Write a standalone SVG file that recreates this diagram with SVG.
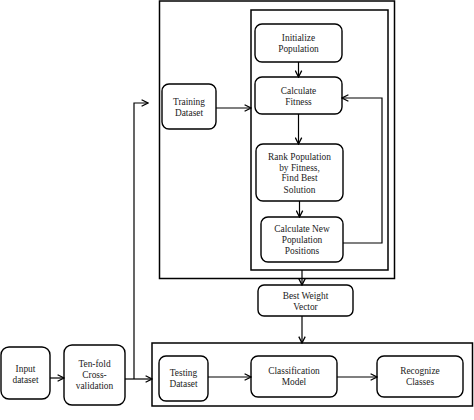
<svg xmlns="http://www.w3.org/2000/svg" width="474" height="420" viewBox="0 0 474 420">
<defs>
<marker id="ah" viewBox="0 0 10 10" refX="9" refY="5" markerWidth="8" markerHeight="8" markerUnits="userSpaceOnUse" orient="auto">
<path d="M1,1 L9,5 L1,9" fill="none" stroke="#000" stroke-width="1.6"/>
</marker>
<style>
.n{fill:#fff;stroke:#000;stroke-width:1.4}
.b{fill:none;stroke:#000;stroke-width:1.5}
.c{fill:none;stroke:#000;stroke-width:1.2;marker-end:url(#ah)}
text{font-family:"Liberation Serif","Times New Roman",serif;font-size:9.4px;fill:#222;text-anchor:middle}
</style>
</defs>
<rect width="474" height="420" fill="#fff"/>
<g id="outerTop"><rect class="b" x="159.5" y="1" width="235" height="277.5"/></g>
<g id="innerTop"><rect class="b" x="251" y="10" width="137" height="260"/></g>
<g id="bottomBox"><rect class="b" x="152" y="343" width="320.5" height="63"/></g>
<g id="init"><rect class="n" x="255" y="24" width="87" height="38" rx="7"/><text x="298.5" y="41">Initialize</text><text x="298.5" y="52">Population</text></g>
<g id="calcFit"><rect class="n" x="255" y="77" width="87" height="37" rx="7"/><text x="298.5" y="93.5">Calculate</text><text x="298.5" y="104.5">Fitness</text></g>
<g id="training"><rect class="n" x="162" y="84" width="54" height="45" rx="7"/><text x="189" y="105">Training</text><text x="189" y="116">Dataset</text></g>
<g id="rank"><rect class="n" x="256" y="144" width="87" height="57" rx="7"/><text x="299.5" y="159.5">Rank Population</text><text x="299.5" y="170.5">by Fitness,</text><text x="299.5" y="181">Find Best</text><text x="299.5" y="193">Solution</text></g>
<g id="calcNew"><rect class="n" x="261" y="217" width="82" height="45" rx="7"/><text x="302" y="232">Calculate New</text><text x="302" y="243">Population</text><text x="302" y="253.5">Positions</text></g>
<g id="bestWeight"><rect class="n" x="258" y="285" width="95" height="31" rx="6"/><text x="305.5" y="298.5">Best Weight</text><text x="305.5" y="309.5">Vector</text></g>
<g id="testing"><rect class="n" x="159" y="356" width="49" height="45" rx="7"/><text x="183.5" y="375.5">Testing</text><text x="183.5" y="386.5">Dataset</text></g>
<g id="classif"><rect class="n" x="251" y="356" width="86" height="41" rx="7"/><text x="294" y="373.5">Classification</text><text x="294" y="384.5">Model</text></g>
<g id="recognize"><rect class="n" x="377" y="356" width="86" height="41" rx="7"/><text x="420" y="373.5">Recognize</text><text x="420" y="384.5">Classes</text></g>
<g id="input"><rect class="n" x="1" y="347" width="49" height="52" rx="8"/><text x="25.5" y="372">Input</text><text x="25.5" y="383">dataset</text></g>
<g id="tenfold"><rect class="n" x="64" y="345" width="61" height="60" rx="8"/><text x="94.5" y="367">Ten-fold</text><text x="94.5" y="378">Cross-</text><text x="94.5" y="389">validation</text></g>
<g id="connectors">
<line class="c" x1="298.5" y1="62" x2="298.5" y2="77"/>
<line class="c" x1="298.5" y1="114" x2="298.5" y2="144"/>
<line class="c" x1="299.5" y1="201" x2="299.5" y2="217"/>
<polyline class="c" points="343,243 382,243 382,98 342,98"/>
<line class="c" x1="216" y1="108" x2="251" y2="108"/>
<line class="c" x1="302" y1="270" x2="302" y2="285"/>
<line class="c" x1="302" y1="316" x2="302" y2="343"/>
<line class="c" x1="50" y1="378" x2="64" y2="378"/>
<line class="c" x1="125" y1="379" x2="152" y2="379"/>
<polyline class="c" points="134,379 134,103 148,103"/>
<line class="c" x1="208" y1="377" x2="251" y2="377"/>
<line class="c" x1="337" y1="377" x2="377" y2="377"/>
</g>
</svg>
